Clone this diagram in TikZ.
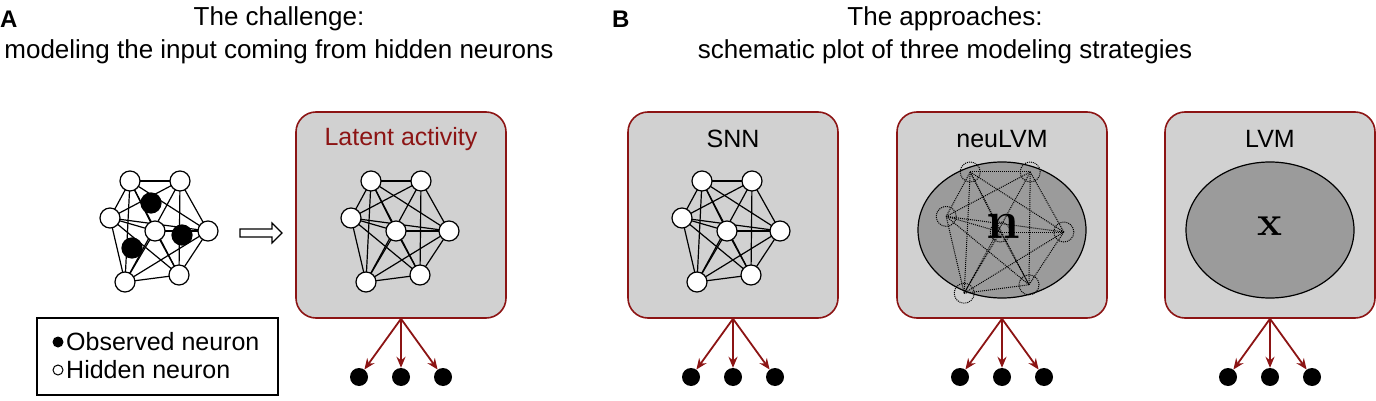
\documentclass[tikz,border=0pt]{standalone}
\usepackage{fontspec}
\setmainfont{Liberation Sans}
\newfontfamily\lmr{Latin Modern Roman}
\usetikzlibrary{arrows.meta,shapes.arrows,shapes.geometric}
\definecolor{dred}{RGB}{140,20,20}
\definecolor{boxg}{RGB}{209,209,209}
\definecolor{ellg}{RGB}{155,155,155}
\tikzset{
 box/.style={draw=dred,line width=1.6pt,fill=boxg,rounded corners=20pt,minimum width=210pt,minimum height=206pt,inner sep=0},
 neu/.style={circle,draw=black,line width=1.2pt,fill=white,minimum size=20pt,inner sep=0},
 obs/.style={neu,fill=black},
 dneu/.style={circle,draw=black,densely dotted,line width=1pt,minimum size=20pt,inner sep=0},
 edge/.style={line width=1.2pt},
 dedge/.style={densely dotted,line width=1pt},
 odot/.style={circle,fill=black,minimum size=18pt,inner sep=0},
 oarr/.style={-{Stealth[length=11pt,width=9pt]},dred,line width=1.8pt},
 txt/.style={font=\fontsize{25}{30}\selectfont,inner sep=0},
 ttl/.style={font=\fontsize{26}{30}\selectfont,inner sep=0},
}
\newcommand\mynet[3]{%
 \coordinate (#1a) at (-29,-50);
 \coordinate (#1b) at (21,-50);
 \coordinate (#1c) at (-49,-13);
 \coordinate (#1d) at (-4,0);
 \coordinate (#1e) at (49,0);
 \coordinate (#1f) at (-34,51);
 \coordinate (#1g) at (20,44);
 \foreach \u/\v in {a/b,a/f,a/d,a/e,a/c,a/g,b/c,b/e,b/g,b/f,c/e,c/d,c/g,c/f,d/e,d/g,d/f,e/f,e/g,f/g}
   \draw[#3] (#1\u) -- (#1\v);
 \foreach \u in {a,b,c,d,e,f,g} \node[#2] (#1\u N) at (#1\u) {};}
\begin{document}
\begin{tikzpicture}[x=1pt,y=-1pt]
\useasboundingbox (0,0) rectangle (1376,401);
\node[txt,font=\fontsize{24}{30}\selectfont\bfseries,anchor=west] (A) at (0,19) {A};
\node[ttl] (t1) at (279,19) {The challenge:};
\node[ttl] (t2) at (279,52) {modeling the input coming from hidden neurons};
\node[txt,font=\fontsize{24}{30}\selectfont\bfseries,anchor=west] (B) at (612,19) {B};
\node[ttl] (t3) at (945,19) {The approaches:};
\node[ttl] (t4) at (945,52) {schematic plot of three modeling strategies};
\begin{scope}[shift={(159,231)}]
\mynet{L}{neu}{edge}
\node[obs] (Lh) at (-8,-28) {};
\node[obs] (Li) at (-27,17) {};
\node[obs] (Lj) at (23,4) {};
\end{scope}
\node[single arrow,draw,line width=1.2pt,minimum height=42pt,minimum width=20pt,single arrow head extend=4pt,inner sep=2pt] (harr) at (259,233) {};
\node[draw,line width=1.2pt,minimum width=241pt,minimum height=77pt,inner sep=0] (leg) at (157.5,356.5) {};
\node[circle,fill=black,minimum size=11pt,inner sep=0] (l1) at (58,342) {};
\node[txt,anchor=west] (l1t) at (66,342) {Observed neuron};
\node[circle,draw,line width=1pt,minimum size=10pt,inner sep=0] (l2) at (58,370) {};
\node[txt,anchor=west] (l2t) at (66,370) {Hidden neuron};
\foreach \n/\cx in {P/401,Q/733,R/1002,S/1270}{
  \node[box] (\n) at (\cx,215) {};
  \node[odot] (\n1) at (\cx-42,377) {};
  \node[odot] (\n2) at (\cx,377) {};
  \node[odot] (\n3) at (\cx+42,377) {};
  \draw[oarr] (\n.south) -- (\n1);
  \draw[oarr] (\n.south) -- (\n2);
  \draw[oarr] (\n.south) -- (\n3);
}
\node[txt,text=dred] (Pt) at (401,139) {Latent activity};
\node[txt] (Qt) at (733,139) {SNN};
\node[txt] (Rt) at (1002,139) {neuLVM};
\node[txt] (St) at (1270,139) {LVM};
\begin{scope}[shift={(400,231)}]\mynet{P}{neu}{edge}\end{scope}
\begin{scope}[shift={(731,231)}]\mynet{Q}{neu}{edge}\end{scope}
\node[ellipse,draw,line width=1.2pt,fill=ellg,minimum width=168pt,minimum height=136pt,inner sep=0] (Re) at (1002,230) {};
\node[ellipse,draw,line width=1.2pt,fill=ellg,minimum width=168pt,minimum height=136pt,inner sep=0] (Se) at (1270,230) {};
\begin{scope}[shift={(1005,232)},scale=1.2]\mynet{D}{dneu}{dedge}\end{scope}
\node[font=\fontsize{54}{54}\selectfont\lmr\bfseries,inner sep=0] (nl) at (1003,226) {n};
\node[font=\fontsize{42}{42}\selectfont\lmr\bfseries,inner sep=0] (xl) at (1270,226) {x};
\end{tikzpicture}
\end{document}
